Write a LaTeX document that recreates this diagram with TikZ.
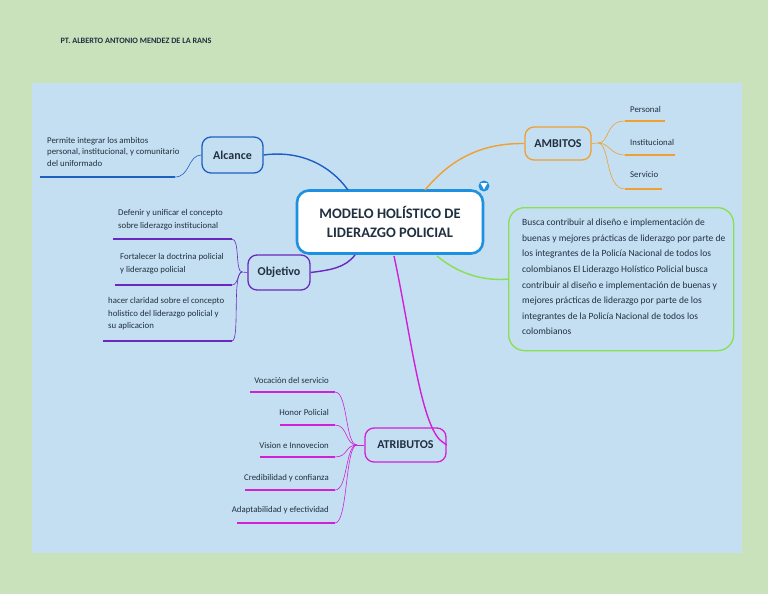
\documentclass[tikz,border=0pt]{standalone}
\usepackage{fontspec}
\setmainfont{Carlito}
\begin{document}
\begin{tikzpicture}[x=1pt,y=-1pt,
  main/.style={draw=#1,line width=1.3pt,fill=bgblue,rounded corners=9pt,font=\bfseries\fontsize{12}{14}\selectfont,text=darktxt,inner sep=0pt},
  leaf/.style={font=\fontsize{8.8}{12.8}\selectfont,text=darktxt,inner sep=0pt,align=left},
  ul/.style={line width=2.4pt,draw=#1},
  con/.style={line width=1pt,draw=#1},
  thin/.style={line width=0.6pt,draw=#1}]
\definecolor{pagebg}{HTML}{C9E2BC}
\definecolor{bgblue}{HTML}{C4DFF1}
\definecolor{darktxt}{HTML}{203040}
\definecolor{cblue}{HTML}{1F5FC0}
\definecolor{cpurp}{HTML}{6A28C0}
\definecolor{corng}{HTML}{EFA030}
\definecolor{cgreen}{HTML}{88E050}
\definecolor{cmag}{HTML}{D020D8}
\definecolor{cnode}{HTML}{1E90E0}
\useasboundingbox (0,0) rectangle (768,594);
\fill[pagebg] (0,0) rectangle (768,594);
\fill[bgblue] (32,83) rectangle (742,553);
\node[anchor=west,font=\bfseries\fontsize{8.2}{9}\selectfont,text=darktxt] (hdr) at (57,41) {PT. ALBERTO ANTONIO MENDEZ DE LA RANS};
% central
\node[draw=cnode,line width=2.6pt,fill=white,rounded corners=12pt,minimum width=186pt,minimum height=63pt,align=center,font=\bfseries\fontsize{14.5}{19}\selectfont,text=darktxt] (c) at (390,222) {MODELO HOLÍSTICO DE\\LIDERAZGO POLICIAL};
\node[circle,fill=cnode,minimum size=11pt,inner sep=0pt] (mk) at (484,186) {};
\fill[white] (480.5,183) -- (487.5,183) -- (484,189.5) -- cycle;
% Alcance
\node[main=cblue,minimum width=61pt,minimum height=36pt] (alc) at (232.5,155) {Alcance};
\coordinate (alcL1) at (40,177); \coordinate (alcL2) at (175,177);
\draw[ul=cblue] (alcL1) -- (alcL2);
\node[leaf,anchor=north west,font=\fontsize{8.8}{11.5}\selectfont] (alct) at (47,137) {Permite integrar los ambitos\\personal, institucional, y comunitario\\del uniformado};
\draw[thin=cblue] (alcL2) .. controls (190,177) and (188,155) .. (alc.west);
\coordinate (c1) at (348,190);
\draw[con=cblue,line width=1.4pt] (alc.east) .. controls (300,150) and (330,165) .. (c1);
% Objetivo
\node[main=cpurp,minimum width=62pt,minimum height=35pt] (obj) at (279,272.5) {Objetivo};
\coordinate (c2) at (355,255);
\draw[con=cpurp,line width=1.4pt] (obj.east) .. controls (330,270) and (345,268) .. (c2);
\coordinate (o1a) at (113,239); \coordinate (o1b) at (232,239);
\coordinate (o2a) at (115,285); \coordinate (o2b) at (232,285);
\coordinate (o3a) at (103,341); \coordinate (o3b) at (232,341);
\coordinate (oj) at (242,272);
\draw[ul=cpurp] (o1a) -- (o1b); \draw[ul=cpurp] (o2a) -- (o2b); \draw[ul=cpurp] (o3a) -- (o3b);
\node[leaf,anchor=north west] (o1t) at (118,209) {Defenir y unificar el concepto\\sobre liderazgo institucional};
\node[leaf,anchor=north west] (o2t) at (120,253) {Fortalecer la doctrina policial\\y liderazgo policial};
\node[leaf,anchor=north west] (o3t) at (108,297) {hacer claridad sobre el concepto\\holistico del liderazgo policial y\\su aplicacion};
\draw[thin=cpurp] (o1b) .. controls (240,239) and (235,272) .. (oj);
\draw[thin=cpurp] (o2b) .. controls (238,285) and (238,272) .. (oj);
\draw[thin=cpurp] (o3b) .. controls (240,341) and (232,272) .. (oj);
\draw[thin=cpurp] (oj) -- (obj.west);
% AMBITOS
\node[main=corng,minimum width=66pt,minimum height=33pt] (amb) at (558,143.5) {AMBITOS};
\coordinate (c3) at (425,190);
\draw[con=corng,line width=1.4pt] (c3) .. controls (450,160) and (480,143) .. (amb.west);
\coordinate (a1a) at (625,121); \coordinate (a1b) at (665,121);
\coordinate (a2a) at (625,155); \coordinate (a2b) at (675,155);
\coordinate (a3a) at (625,189); \coordinate (a3b) at (662,189);
\draw[ul=corng] (a1a) -- (a1b); \draw[ul=corng] (a2a) -- (a2b); \draw[ul=corng] (a3a) -- (a3b);
\node[leaf,anchor=west] (a1t) at (630,109) {Personal};
\node[leaf,anchor=west] (a2t) at (630,142) {Institucional};
\node[leaf,anchor=west] (a3t) at (630,175) {Servicio};
\coordinate (aj) at (598,143);
\draw[thin=corng] (amb.east) -- (aj);
\draw[thin=corng] (aj) .. controls (610,143) and (605,121) .. (a1a);
\draw[thin=corng] (aj) .. controls (610,143) and (610,155) .. (a2a);
\draw[thin=corng] (aj) .. controls (610,143) and (605,189) .. (a3a);
% green box
\node[draw=cgreen,line width=1.3pt,fill=bgblue,rounded corners=16pt,minimum width=225pt,minimum height=143pt,anchor=north west,inner sep=0pt] (g) at (508,207) {};
\node[leaf,anchor=north west,font=\fontsize{9.5}{15.6}\selectfont] (gt) at (522,219) {Busca contribuir al diseño e implementación de\\buenas y mejores prácticas de liderazgo por parte de\\los integrantes de la Policía Nacional de todos los\\colombianos El Liderazgo Holístico Policial busca\\contribuir al diseño e implementación de buenas y\\mejores prácticas de liderazgo por parte de los\\integrantes de la Policía Nacional de todos los\\colombianos};
\coordinate (c4) at (437,256);
\draw[con=cgreen,line width=1.4pt] (c4) .. controls (460,275) and (485,281) .. (g.west);
% ATRIBUTOS
\node[main=cmag,minimum width=81pt,minimum height=34pt] (atr) at (405.5,445) {ATRIBUTOS};
\coordinate (c5) at (394,256);
\draw[con=cmag,line width=1.4pt] (c5) .. controls (410,330) and (420,420) .. (440,440) -- (atr.east);
\coordinate (t1a) at (250,392); \coordinate (t1b) at (335,392);
\coordinate (t2a) at (280,425); \coordinate (t2b) at (335,425);
\coordinate (t3a) at (260,457); \coordinate (t3b) at (335,457);
\coordinate (t4a) at (245,490); \coordinate (t4b) at (335,490);
\coordinate (t5a) at (237,523); \coordinate (t5b) at (335,523);
\foreach \i in {1,...,5} {\draw[ul=cmag] (t\i a) -- (t\i b);}
\node[leaf,anchor=east] (t1t) at (329,380) {Vocación del servicio};
\node[leaf,anchor=east] (t2t) at (329,412) {Honor Policial};
\node[leaf,anchor=east] (t3t) at (329,445) {Vision e Innovecion};
\node[leaf,anchor=east] (t4t) at (329,478) {Credibilidad y confianza};
\node[leaf,anchor=east] (t5t) at (329,510) {Adaptabilidad y efectividad};
\coordinate (tj) at (357,445);
\draw[thin=cmag] (tj) -- (atr.west);
\foreach \i/\a in {1/392,2/425,3/457,4/490,5/523} {\draw[thin=cmag] (t\i b) .. controls (348,\a) and (345,445) .. (tj);}
\end{tikzpicture}
\end{document}
